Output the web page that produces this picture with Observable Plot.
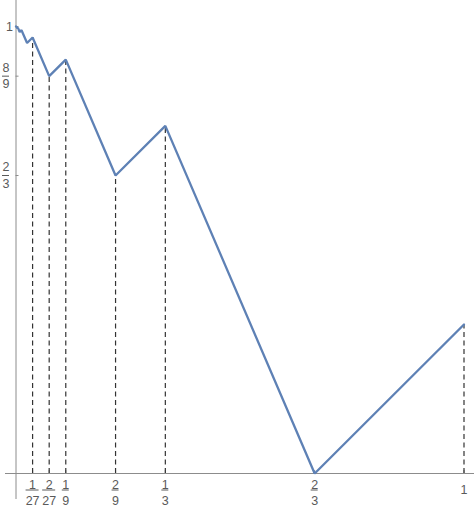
<!DOCTYPE html>
<html>
<head>
<meta charset="utf-8">
<script src="https://cdn.jsdelivr.net/npm/d3@7"></script>
<script src="https://cdn.jsdelivr.net/npm/@observablehq/plot@0.6"></script>
<style>
  html, body { margin: 0; padding: 0; background: #fff; }
  #chart svg { display: block; }
</style>
</head>
<body>
<div id="chart"></div>
<script>
// Vertices of the curve (x, y)
const curveX = [0, 1/729, 2/729, 1/243, 2/243, 1/81, 2/81, 1/27, 2/27, 1/9, 2/9, 1/3, 2/3, 1];
const curveY = [1, 2185/2187, 242/243, 727/729, 80/81, 241/243, 26/27, 79/81, 8/9, 25/27, 2/3, 7/9, 0, 1/3];

// Dashed drop lines
const dropX = [1/27, 2/27, 1/9, 2/9, 1/3, 2/3, 1];
const dropY = [79/81, 8/9, 25/27, 2/3, 7/9, 0, 1/3];

// x tick labels (fractions)
const xTickValues = [1/27, 2/27, 1/9, 2/9, 1/3, 2/3, 1];
const xTickNum = ["1", "2", "1", "2", "1", "2", "1"];
const xTickDen = ["27", "27", "9", "9", "3", "3", ""];

// y tick labels
const yTickValues = [1, 8/9, 2/3];
const yTickNum = ["1", "8", "2"];
const yTickDen = ["", "9", "3"];

const curve = curveX.map((x, i) => ({x, y: curveY[i]}));
const drops = dropX.map((x, i) => ({x, y: dropY[i]}));
const xTicks = xTickValues.map((v, i) => ({v, num: xTickNum[i], den: xTickDen[i]}));
const yTicks = yTickValues.map((v, i) => ({v, num: yTickNum[i], den: yTickDen[i]}));

const axisColor = "#8c8c8c";
const textColor = "#5a5a5a";
const font = "Liberation Sans, Arial, sans-serif";
const fs = 12.5;

const xFrac = xTicks.filter(d => d.den !== "");
const xWhole = xTicks.filter(d => d.den === "");
const yFrac = yTicks.filter(d => d.den !== "");
const yWhole = yTicks.filter(d => d.den === "");

const chart = Plot.plot({
  width: 474,
  height: 508,
  marginLeft: 15.5,
  marginRight: 10.5,
  marginTop: 26,
  marginBottom: 35,
  x: {domain: [0, 1], axis: null},
  y: {domain: [0, 1], axis: null},
  style: {fontFamily: font, background: "#fff"},
  marks: [
    // axes
    Plot.ruleX([0], {stroke: axisColor, strokeWidth: 1, insetTop: -26, insetBottom: -26}),
    Plot.ruleY([0], {stroke: axisColor, strokeWidth: 1, insetLeft: -10.5, insetRight: -10.5}),
    // tick marks
    Plot.ruleY(yTicks, {y: "v", x1: 0, x2: 0, insetRight: -3, stroke: axisColor}),
    Plot.ruleX(xTicks, {x: "v", y1: 0, y2: 0, insetTop: -3, stroke: axisColor}),
    // dashed drop lines
    Plot.ruleX(drops, {x: "x", y1: 0, y2: "y", stroke: "#333", strokeWidth: 1.2, strokeDasharray: "5,3.5"}),
    // curve
    Plot.line(curve, {x: "x", y: "y", stroke: "#5E81B5", strokeWidth: 2.3, strokeLinejoin: "miter"}),
    // x tick labels
    Plot.text(xFrac, {x: "v", y: 0, text: "num", dy: 11, fill: textColor, fontSize: fs}),
    Plot.text(xFrac, {x: "v", y: 0, text: "den", dy: 27.5, fill: textColor, fontSize: fs}),
    Plot.ruleY(xFrac.filter(d => d.den.length > 1), {y: 0, x1: "v", x2: "v", dy: 16.5, insetLeft: -6.5, insetRight: -6.5, stroke: textColor, strokeWidth: 1}),
    Plot.ruleY(xFrac.filter(d => d.den.length === 1), {y: 0, x1: "v", x2: "v", dy: 16.5, insetLeft: -3.5, insetRight: -3.5, stroke: textColor, strokeWidth: 1}),
    Plot.text(xWhole, {x: "v", y: 0, text: "num", dy: 16.5, fill: textColor, fontSize: fs}),
    // y tick labels
    Plot.text(yWhole, {x: 0, y: "v", text: "num", dx: -6.5, fill: textColor, fontSize: fs}),
    Plot.text(yFrac, {x: 0, y: "v", text: "num", dx: -10, dy: -8.5, fill: textColor, fontSize: fs}),
    Plot.text(yFrac, {x: 0, y: "v", text: "den", dx: -10, dy: 8, fill: textColor, fontSize: fs}),
    Plot.ruleY(yFrac, {y: "v", x1: 0, x2: 0, dx: -10, insetLeft: -3.5, insetRight: -3.5, stroke: textColor, strokeWidth: 1})
  ]
});

document.getElementById("chart").appendChild(chart);
</script>
</body>
</html>
